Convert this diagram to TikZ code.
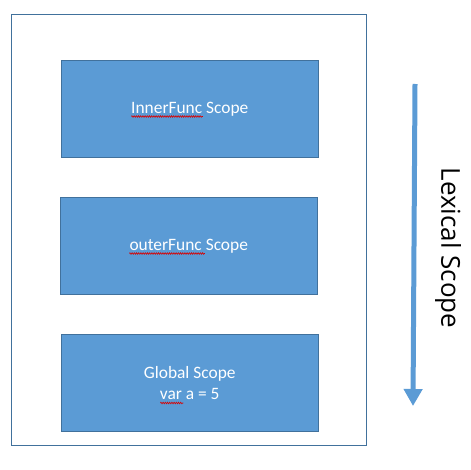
\documentclass[tikz,border=0pt]{standalone}
\usepackage{fontspec}
\setmainfont{Carlito}
\newfontfamily\lexfont{Open Sans}
\usetikzlibrary{arrows.meta,decorations.pathmorphing,calc}
\definecolor{boxfill}{HTML}{5B9BD5}
\definecolor{boxline}{HTML}{41719C}
\begin{document}
\begin{tikzpicture}[x=1pt,y=-1pt,
  scopebox/.style={draw=boxline,fill=boxfill,line width=1pt,minimum width=257.5pt,minimum height=97pt,
    text=white,font=\fontsize{17.4}{21}\selectfont,align=center,inner sep=0pt},
  squiggle/.style={draw=red!85!black,line width=0.6pt,decorate,decoration={snake,segment length=2.2pt,amplitude=0.8pt}},
  flow/.style={draw=boxfill,line width=5pt,-{Triangle[width=18pt,length=17pt]}}]
\useasboundingbox (0,0) rectangle (470,470);
\node[draw=boxline,line width=1pt,minimum width=355pt,minimum height=430.5pt,inner sep=0pt] (frame) at (189,229.75) {};
\node[scopebox] (inner) at (189.75,109) {InnerFunc Scope};
\node[scopebox] (outer) at (188.75,246) {outerFunc Scope};
\node[scopebox] (global) at (189.75,383) {Global Scope\\var a = 5};
\draw[squiggle] ($(inner.center)+(-58.5,7.5)$) -- ($(inner.center)+(13,7.5)$);
\draw[squiggle] ($(outer.center)+(-59.5,7.5)$) -- ($(outer.center)+(16,7.5)$);
\draw[squiggle] ($(global.center)+(-29.5,20)$) -- ($(global.center)+(-6.5,20)$);
\coordinate (atop) at (415,84);
\coordinate (abot) at (413,406);
\draw[flow] (atop) -- (abot);
\node[rotate=-90,font=\lexfont\fontsize{26}{30}\selectfont,inner sep=0pt] (lex) at (448,248) {Lexical Scope};
\end{tikzpicture}
\end{document}
